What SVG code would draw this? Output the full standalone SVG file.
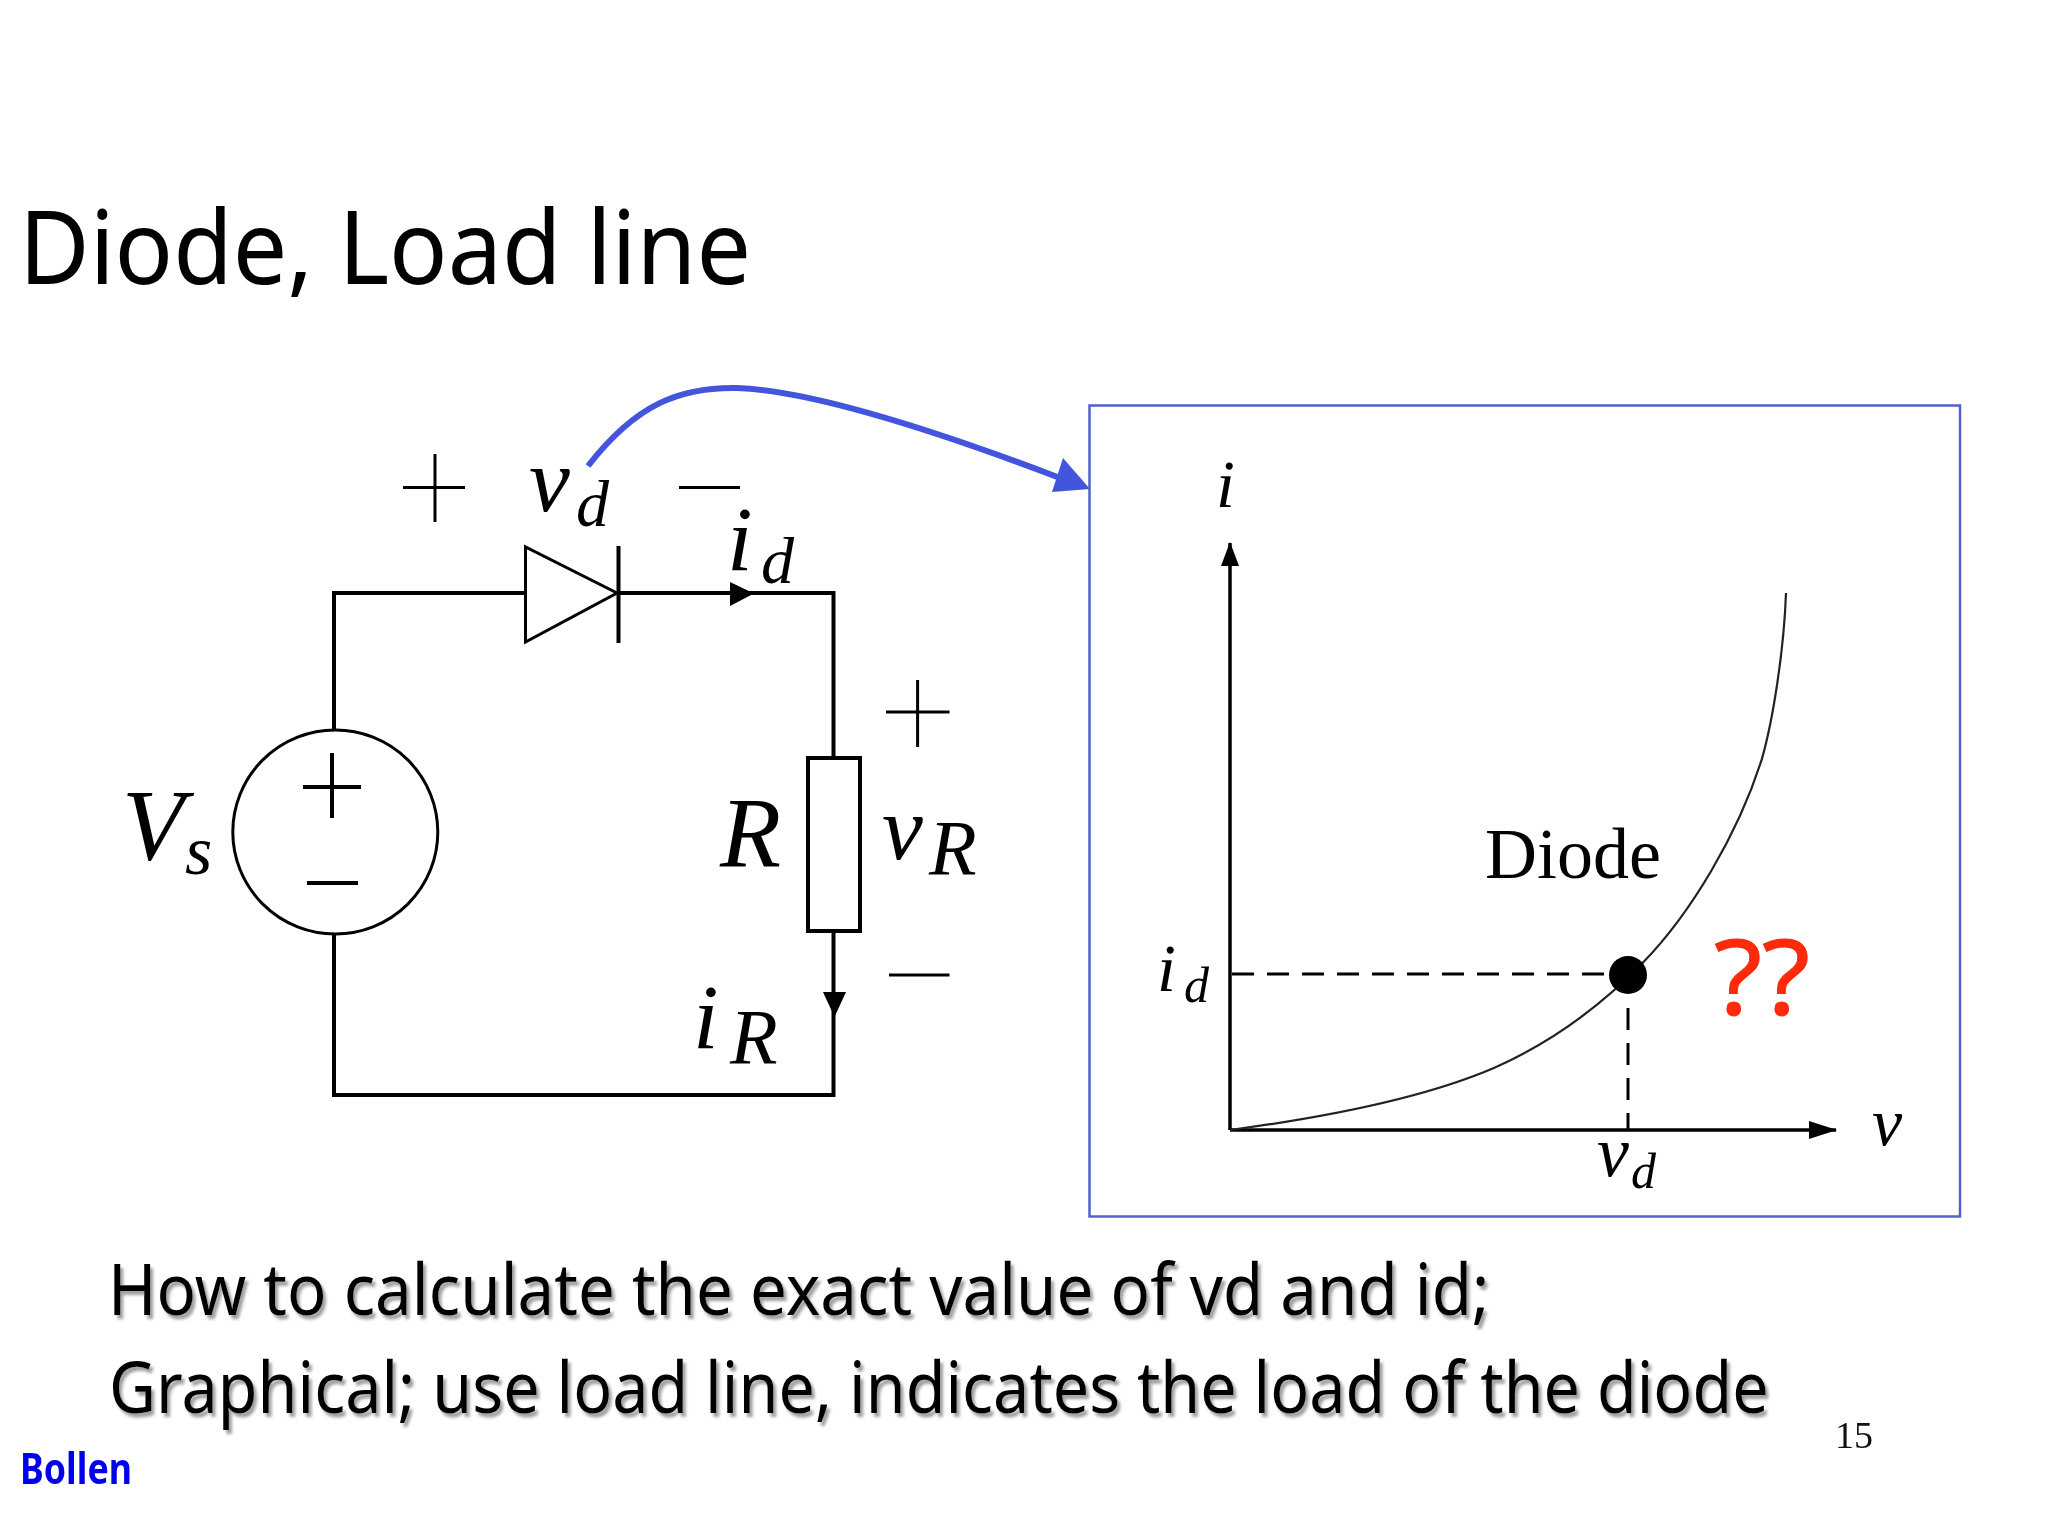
<svg xmlns="http://www.w3.org/2000/svg" width="2048" height="1536" viewBox="0 0 2048 1536">
<style>
.w{fill:none;stroke:#000;stroke-width:4}
.t{fill:none;stroke:#000;stroke-width:3}
.d{fill:none;stroke:#000;stroke-width:3;stroke-dasharray:22 13}
.h{fill:#000;stroke:none}
.m{font-family:"Liberation Serif",serif;font-style:italic;fill:#000}
.s{font-family:"Noto Sans",sans-serif;fill:#000}
</style>
<defs>
<filter id="sh" x="-5%" y="-20%" width="110%" height="150%"><feDropShadow dx="3" dy="4" stdDeviation="1.5" flood-color="#777" flood-opacity="0.7"/></filter>
</defs>
<rect width="2048" height="1536" fill="#fff"/>
<text id="title" class="s" x="19" y="284" font-size="102" textLength="732" lengthAdjust="spacingAndGlyphs">Diode, Load line</text>
<g id="source">
<ellipse cx="335.300" cy="832" rx="102.500" ry="102" class="t"/>
<path d="M303 787H361M332 753V818M307 883H358" class="w"/>
<text class="m" x="122" y="860" font-size="102">V</text>
<text class="m" x="185" y="874" font-size="70">s</text>
</g>
<g id="diode">
<path d="M525.500 547V642L617 593Z" class="t"/>
<path d="M618.500 546V643" class="w"/>
<path d="M403 487.500H465M435 454V522M679 487.500H740" class="t"/>
<text class="m" x="529" y="511" font-size="92">v<tspan x="576" y="526" font-size="66">d</tspan></text>
<text class="m" x="727" y="570" font-size="92">i<tspan x="761" y="583" font-size="66">d</tspan></text>
</g>
<g id="resistor">
<rect x="808" y="758" width="52" height="173" fill="#fff" class="w"/>
<path d="M886 712H949.500M917.600 680V747M889 975H949.500" class="t"/>
<text class="m" x="720" y="866" font-size="100">R</text>
<text class="m" x="882" y="859" font-size="92">v<tspan x="929" y="874" font-size="78">R</tspan></text>
<text class="m" x="693" y="1048" font-size="92">i<tspan x="730" y="1063" font-size="78">R</tspan></text>
</g>
<g id="connectors">
<path d="M334 730V593H525.500M618.500 593H833.500V758M833.500 931V1095H334V934" class="w"/>
<path d="M730 582V606L754 593.500Z" class="h"/>
<path d="M823 992H846L834.500 1017Z" class="h"/>
<path d="M588 466C636 404 680 387 737 388C820 391 955 438 1060 478" fill="none" stroke="#4455dd" stroke-width="6"/>
<path d="M1090 489L1063 458L1052 492Z" fill="#4455dd"/>
</g>
<g id="plot">
<rect x="1089.500" y="405.500" width="870.500" height="811" fill="none" stroke="#5060cc" stroke-width="2.500"/>
<path d="M1230 1130V543M1230 1130H1836" class="t" style="stroke-width:3.500"/>
<path d="M1230 542L1221 566H1239Z" class="h"/>
<path d="M1837 1130L1809 1121V1139Z" class="h"/>
<path d="M1230 1130C1320 1118 1420 1100 1495 1067.500C1550 1043 1600 1007 1643.500 962C1690 914 1738 835 1762 758.600C1773 720 1784 650 1786 593" fill="none" stroke="#222" stroke-width="2.200"/>
<path d="M1232 974H1610" class="d"/>
<path d="M1628 1008V1130" class="d"/>
<circle cx="1628" cy="975" r="19"/>
<text class="m" x="1216" y="507" font-size="68">i</text>
<text class="m" x="1157" y="991" font-size="68">i<tspan x="1184" y="1002" font-size="50">d</tspan></text>
<text class="m" x="1872" y="1145" font-size="68">v</text>
<text class="m" x="1597" y="1176" font-size="72">v<tspan x="1631" y="1188" font-size="50">d</tspan></text>
<text x="1485" y="878" font-family="Liberation Serif,serif" font-size="72" fill="#000">Diode</text>
<text x="1714" y="1015" font-family="Noto Sans,sans-serif" font-size="104" fill="#ff2a0a" stroke="#ff2a0a" stroke-width="1" textLength="96" lengthAdjust="spacingAndGlyphs">??</text>
</g>
<g id="body" filter="url(#sh)">
<text class="s" transform="translate(108 1315) scale(0.88 1)" font-size="71" textLength="1570" lengthAdjust="spacingAndGlyphs">How to calculate the exact value of vd and id;</text>
<text class="s" transform="translate(109 1413) scale(0.88 1)" font-size="71" textLength="1886" lengthAdjust="spacingAndGlyphs">Graphical; use load line, indicates the load of the diode</text>
</g>
<text id="author" x="20" y="1484" font-family="Noto Sans,sans-serif" font-weight="700" font-size="43" fill="#0000ee" textLength="112" lengthAdjust="spacingAndGlyphs">Bollen</text>
<text id="page" x="1835" y="1448" font-family="Liberation Serif,serif" font-size="38" fill="#111">15</text>
</svg>
